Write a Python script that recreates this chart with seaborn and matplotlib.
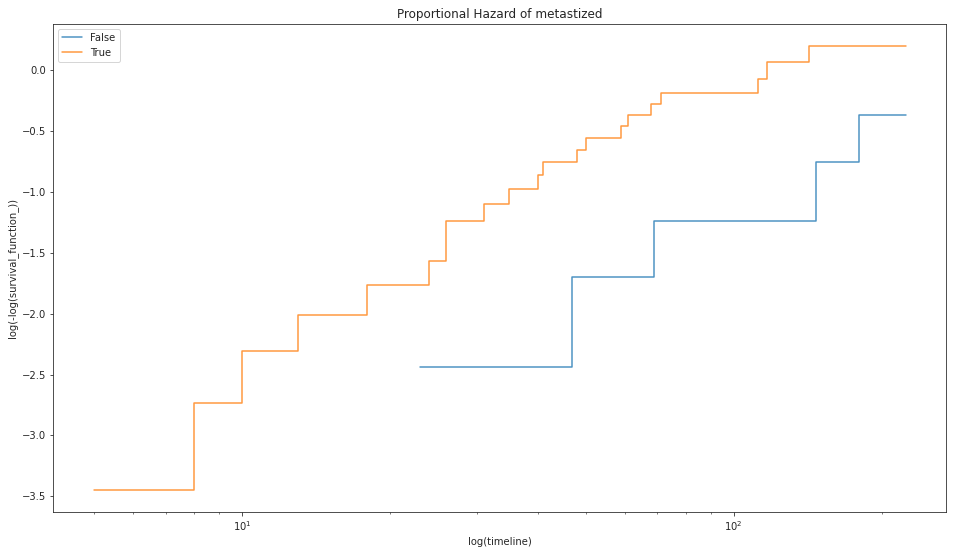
import pandas as pd
import matplotlib
matplotlib.use('Agg')
import matplotlib.pyplot as plt
import seaborn as sns

# timeline / log(-log(S))
time_false = [23, 47, 69, 147, 180, 224]
loglog_false = [-2.44, -1.70, -1.24, -0.75, -0.365, -0.365]

time_true = [5, 8, 10, 13, 18, 24, 26, 31, 35, 40, 41, 48, 50, 59, 61, 68, 71, 112, 117, 142, 224]
loglog_true = [-3.45, -2.73, -2.31, -2.01, -1.76, -1.565, -1.24, -1.10, -0.975, -0.86, -0.75,
               -0.65, -0.553, -0.455, -0.363, -0.275, -0.185, -0.068, 0.070, 0.201, 0.201]

groups = ['False', 'True']

df = pd.concat([
    pd.DataFrame({'timeline': time_false, 'loglog': loglog_false, 'metastized': groups[0]}),
    pd.DataFrame({'timeline': time_true, 'loglog': loglog_true, 'metastized': groups[1]}),
])

sns.set_style('ticks')
plt.rcParams['font.family'] = ['DejaVu Sans']
plt.rcParams['font.size'] = 10

fig, ax = plt.subplots(figsize=(956 / 72, 554 / 72), dpi=72)
fig.subplots_adjust(left=0.0558, right=0.990, top=0.957, bottom=0.0753)

sns.lineplot(data=df, x='timeline', y='loglog', hue='metastized', hue_order=groups,
             palette=['#1f77b4', '#ff7f0e'], drawstyle='steps-post', estimator=None,
             linewidth=1.5, alpha=0.8, ax=ax)
ax.set_xscale('log')
ax.set_title('Proportional Hazard of metastized')
ax.set_xlabel('log(timeline)')
ax.set_ylabel('log(-log(survival_function_))')
ax.legend(loc='upper left', title=None)

fig.savefig('out.png', dpi=72)
